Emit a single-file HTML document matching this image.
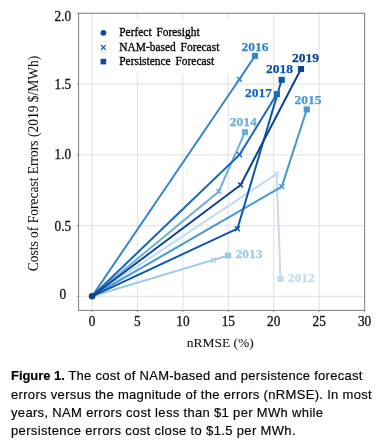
<!DOCTYPE html>
<html><head><meta charset="utf-8"><style>
html,body{margin:0;padding:0;background:#fff;}
body{width:377px;height:443px;position:relative;overflow:hidden;}
.t{font-family:"Liberation Serif",serif;font-size:14px;fill:#111;stroke:#111;stroke-width:0.3px;}
.lb{font-family:"Liberation Serif",serif;font-size:13.5px;font-weight:bold;}
.lg{font-family:"Liberation Serif",serif;font-size:12px;word-spacing:2.0px;fill:#000;stroke:#000;stroke-width:0.3px;}
.at{font-family:"Liberation Serif",serif;font-size:13.5px;fill:#111;stroke:#111;stroke-width:0.05px;}
.cap{will-change:transform;position:absolute;left:10.5px;font-family:"Liberation Sans",sans-serif;font-size:13px;line-height:16px;color:#000;-webkit-text-stroke:0.15px #000;white-space:nowrap;}
</style></head><body>
<svg width="377" height="443" style="position:absolute;left:0;top:0;will-change:transform">
<line x1="92.0" y1="13.3" x2="92.0" y2="310.45" stroke="#e0e0e0" stroke-width="1"/>
<line x1="137.4" y1="13.3" x2="137.4" y2="310.45" stroke="#e0e0e0" stroke-width="1"/>
<line x1="182.9" y1="13.3" x2="182.9" y2="310.45" stroke="#e0e0e0" stroke-width="1"/>
<line x1="228.3" y1="13.3" x2="228.3" y2="310.45" stroke="#e0e0e0" stroke-width="1"/>
<line x1="273.7" y1="13.3" x2="273.7" y2="310.45" stroke="#e0e0e0" stroke-width="1"/>
<line x1="319.2" y1="13.3" x2="319.2" y2="310.45" stroke="#e0e0e0" stroke-width="1"/>
<line x1="364.6" y1="13.3" x2="364.6" y2="310.45" stroke="#e0e0e0" stroke-width="1"/>
<line x1="78.6" y1="296.3" x2="364.6" y2="296.3" stroke="#e0e0e0" stroke-width="1"/>
<line x1="78.6" y1="225.6" x2="364.6" y2="225.6" stroke="#e0e0e0" stroke-width="1"/>
<line x1="78.6" y1="154.8" x2="364.6" y2="154.8" stroke="#e0e0e0" stroke-width="1"/>
<line x1="78.6" y1="84.1" x2="364.6" y2="84.1" stroke="#e0e0e0" stroke-width="1"/>
<line x1="78.6" y1="13.3" x2="364.6" y2="13.3" stroke="#e0e0e0" stroke-width="1"/>
<rect x="96" y="18.7" width="138" height="55" fill="#fff"/>
<rect x="78.6" y="13.3" width="286.0" height="297.1" fill="none" stroke="#8a8a8a" stroke-width="1.1"/>
<line x1="92.0" y1="310.45" x2="92.0" y2="312.05" stroke="#8a8a8a" stroke-width="1"/>
<line x1="137.4" y1="310.45" x2="137.4" y2="312.05" stroke="#8a8a8a" stroke-width="1"/>
<line x1="182.9" y1="310.45" x2="182.9" y2="312.05" stroke="#8a8a8a" stroke-width="1"/>
<line x1="228.3" y1="310.45" x2="228.3" y2="312.05" stroke="#8a8a8a" stroke-width="1"/>
<line x1="273.7" y1="310.45" x2="273.7" y2="312.05" stroke="#8a8a8a" stroke-width="1"/>
<line x1="319.2" y1="310.45" x2="319.2" y2="312.05" stroke="#8a8a8a" stroke-width="1"/>
<line x1="364.6" y1="310.45" x2="364.6" y2="312.05" stroke="#8a8a8a" stroke-width="1"/>
<line x1="77.0" y1="296.3" x2="78.6" y2="296.3" stroke="#8a8a8a" stroke-width="1"/>
<line x1="77.0" y1="225.6" x2="78.6" y2="225.6" stroke="#8a8a8a" stroke-width="1"/>
<line x1="77.0" y1="154.8" x2="78.6" y2="154.8" stroke="#8a8a8a" stroke-width="1"/>
<line x1="77.0" y1="84.1" x2="78.6" y2="84.1" stroke="#8a8a8a" stroke-width="1"/>
<line x1="77.0" y1="13.3" x2="78.6" y2="13.3" stroke="#8a8a8a" stroke-width="1"/>
<text transform="translate(92.0,325.9) scale(0.95,1)" text-anchor="middle" class="t">0</text>
<text transform="translate(137.4,325.9) scale(0.95,1)" text-anchor="middle" class="t">5</text>
<text transform="translate(182.9,325.9) scale(0.95,1)" text-anchor="middle" class="t">10</text>
<text transform="translate(228.3,325.9) scale(0.95,1)" text-anchor="middle" class="t">15</text>
<text transform="translate(273.7,325.9) scale(0.95,1)" text-anchor="middle" class="t">20</text>
<text transform="translate(319.2,325.9) scale(0.95,1)" text-anchor="middle" class="t">25</text>
<text transform="translate(364.6,325.9) scale(0.95,1)" text-anchor="middle" class="t">30</text>
<text transform="translate(62.8,21.1) scale(0.95,1)" text-anchor="middle" class="t">2.0</text>
<text transform="translate(62.8,88.8) scale(0.95,1)" text-anchor="middle" class="t">1.5</text>
<text transform="translate(62.8,159.2) scale(0.95,1)" text-anchor="middle" class="t">1.0</text>
<text transform="translate(62.8,231.0) scale(0.95,1)" text-anchor="middle" class="t">0.5</text>
<text transform="translate(62.8,299.3) scale(0.95,1)" text-anchor="middle" class="t">0</text>
<polyline points="92.1,296.3 276.7,173.9 280.5,279" fill="none" stroke="#c3dbf0" stroke-width="2" stroke-linejoin="round"/>
<polyline points="92.1,296.3 213.5,259.9 228.1,255.5" fill="none" stroke="#9ccae6" stroke-width="2" stroke-linejoin="round"/>
<polyline points="92.1,296.3 218.8,191.4 245,132.2" fill="none" stroke="#6caedb" stroke-width="2" stroke-linejoin="round"/>
<polyline points="92.1,296.3 281.8,186.6 306.8,109.4" fill="none" stroke="#4a98d2" stroke-width="2" stroke-linejoin="round"/>
<polyline points="92.1,296.3 239.4,79.3 255,55.9" fill="none" stroke="#3385c8" stroke-width="2" stroke-linejoin="round"/>
<polyline points="92.1,296.3 239.5,154.8 276.9,94.1" fill="none" stroke="#1a67bf" stroke-width="2" stroke-linejoin="round"/>
<polyline points="92.1,296.3 237.4,228.7 281.7,79.8" fill="none" stroke="#0b56ad" stroke-width="2" stroke-linejoin="round"/>
<polyline points="92.1,296.3 240.6,185.0 301,69" fill="none" stroke="#0b4492" stroke-width="2" stroke-linejoin="round"/>
<path d="M274.2,171.4L279.2,176.4M274.2,176.4L279.2,171.4" stroke="#c3dbf0" stroke-width="1.4"/>
<rect x="277.4" y="276" width="6.2" height="6" fill="#c3dbf0"/>
<path d="M211.0,257.4L216.0,262.4M211.0,262.4L216.0,257.4" stroke="#9ccae6" stroke-width="1.4"/>
<rect x="225.0" y="252.5" width="6.2" height="6" fill="#9ccae6"/>
<path d="M216.3,188.9L221.3,193.9M216.3,193.9L221.3,188.9" stroke="#6caedb" stroke-width="1.4"/>
<rect x="241.9" y="129.2" width="6.2" height="6" fill="#6caedb"/>
<path d="M279.3,184.1L284.3,189.1M279.3,189.1L284.3,184.1" stroke="#4a98d2" stroke-width="1.4"/>
<rect x="303.7" y="106.4" width="6.2" height="6" fill="#4a98d2"/>
<path d="M236.9,76.8L241.9,81.8M236.9,81.8L241.9,76.8" stroke="#3385c8" stroke-width="1.4"/>
<rect x="251.9" y="52.9" width="6.2" height="6" fill="#3385c8"/>
<path d="M237.0,152.3L242.0,157.3M237.0,157.3L242.0,152.3" stroke="#1a67bf" stroke-width="1.4"/>
<rect x="273.79999999999995" y="91.1" width="6.2" height="6" fill="#1a67bf"/>
<path d="M234.9,226.2L239.9,231.2M234.9,231.2L239.9,226.2" stroke="#0b56ad" stroke-width="1.4"/>
<rect x="278.59999999999997" y="76.8" width="6.2" height="6" fill="#0b56ad"/>
<path d="M238.1,182.5L243.1,187.5M238.1,187.5L243.1,182.5" stroke="#0b4492" stroke-width="1.4"/>
<rect x="297.9" y="66" width="6.2" height="6" fill="#0b4492"/>
<text x="301.2" y="282.1" text-anchor="middle" class="lb" fill="#c3dbf0" stroke="#c3dbf0" stroke-width="0.25">2012</text>
<text x="248.9" y="257.6" text-anchor="middle" class="lb" fill="#9ccae6" stroke="#9ccae6" stroke-width="0.25">2013</text>
<text x="243.3" y="125.6" text-anchor="middle" class="lb" fill="#6caedb" stroke="#6caedb" stroke-width="0.25">2014</text>
<text x="308.0" y="103.7" text-anchor="middle" class="lb" fill="#4a98d2" stroke="#4a98d2" stroke-width="0.25">2015</text>
<text x="255.0" y="50.5" text-anchor="middle" class="lb" fill="#3385c8" stroke="#3385c8" stroke-width="0.25">2016</text>
<text x="258.6" y="97.4" text-anchor="middle" class="lb" fill="#1a67bf" stroke="#1a67bf" stroke-width="0.25">2017</text>
<text x="279.5" y="72.8" text-anchor="middle" class="lb" fill="#0b56ad" stroke="#0b56ad" stroke-width="0.25">2018</text>
<text x="305.5" y="61.7" text-anchor="middle" class="lb" fill="#0b4492" stroke="#0b4492" stroke-width="0.25">2019</text>
<circle cx="92.1" cy="296.3" r="3.3" fill="#0b4492"/>
<circle cx="103.4" cy="32.8" r="2.9" fill="#0d4a9a"/>
<path d="M101.1,45.2L105.7,49.8M101.1,49.8L105.7,45.2" stroke="#0d4a9a" stroke-width="1.2"/>
<rect x="100.6" y="58.8" width="5.6" height="5.6" fill="#0d4a9a"/>
<text transform="translate(119.2,36.3) scale(0.955,1)" class="lg">Perfect Foresight</text>
<text transform="translate(119.2,50.6) scale(0.955,1)" class="lg">NAM-based Forecast</text>
<text transform="translate(119.2,64.6) scale(0.955,1)" class="lg">Persistence Forecast</text>
<text x="220.2" y="347.2" text-anchor="middle" class="at">nRMSE (%)</text>
<text transform="translate(38.3,163.5) rotate(-90) scale(0.964,1)" text-anchor="middle" class="at" style="font-size:14px">Costs of Forecast Errors (2019 $/MWh)</text>
</svg>
<div class="cap" style="top:368px;letter-spacing:0.27px"><b style="letter-spacing:-0.05px">Figure 1.</b> The cost of NAM-based and persistence forecast</div>
<div class="cap" style="top:386.5px;letter-spacing:0.32px">errors versus the magnitude of the errors (nRMSE). In most</div>
<div class="cap" style="top:404.5px;letter-spacing:0.33px">years, NAM errors cost less than $1 per MWh while</div>
<div class="cap" style="top:422.5px;letter-spacing:0.35px">persistence errors cost close to $1.5 per MWh.</div>
</body></html>
